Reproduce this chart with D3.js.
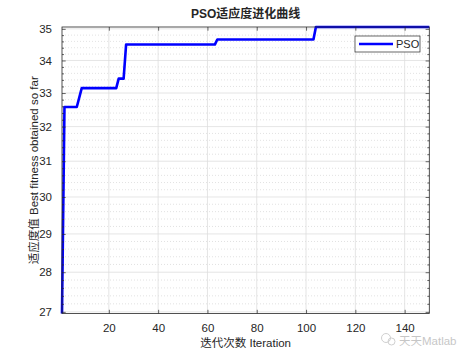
<!DOCTYPE html>
<html lang="zh">
<head>
  <meta charset="UTF-8">
  <title>PSO适应度进化曲线</title>
  <script src="https://d3js.org/d3.v7.min.js"></script>
  <style>
    body { margin: 0; background: #fff; }
    svg { display: block; background: #fff; }
    text { font-family: "Liberation Sans", Arial, "Noto Sans CJK SC", sans-serif; fill: #262626; }
    .cjk { font-family: "Liberation Sans", "Noto Sans CJK SC", sans-serif; }
  </style>
</head>
<body>
  <svg id="chart" width="474" height="355"></svg>

  <script>
    // best-so-far fitness, breakpoints of the step curve
    const iterations = [1, 2, 7, 9, 23, 24, 26, 27, 63, 64, 103, 104, 150];
    const fitness = [26.96, 32.58, 32.58, 33.15, 33.15, 33.44, 33.44, 34.50, 34.50, 34.66, 34.66, 35.06, 35.06];
    const xTicks = [20, 40, 60, 80, 100, 120, 140];
    const yTicks = [27, 28, 29, 30, 31, 32, 33, 34, 35];
    const yMinorTicks = [27.2, 27.4, 27.6, 27.8, 28.2, 28.4, 28.6, 28.8, 29.2, 29.4, 29.6, 29.8,
      30.2, 30.4, 30.6, 30.8, 31.2, 31.4, 31.6, 31.8, 32.2, 32.4, 32.6, 32.8,
      33.2, 33.4, 33.6, 33.8, 34.2, 34.4, 34.6, 34.8];

    const svg = d3.select("#chart");
    const pLeft = 62, pRight = 429.3, pTop = 27, pBottom = 313.5;

    const x = d3.scaleLinear().domain([1, 150]).range([pLeft, pRight]);
    const y = d3.scaleLog().domain([d3.min(fitness), d3.max(fitness)]).range([pBottom, pTop]);

    // grid
    const grid = svg.append("g");
    grid.selectAll(".ymin").data(yMinorTicks).enter().append("line")
      .attr("x1", pLeft).attr("x2", pRight)
      .attr("y1", d => y(d)).attr("y2", d => y(d))
      .attr("stroke", "#cfcfcf").attr("stroke-width", 0.6)
      .attr("stroke-dasharray", "1,2");
    grid.selectAll(".ymaj").data(yTicks).enter().append("line")
      .attr("x1", pLeft).attr("x2", pRight)
      .attr("y1", d => y(d)).attr("y2", d => y(d))
      .attr("stroke", "#dedede").attr("stroke-width", 0.8);
    grid.selectAll(".xmaj").data(xTicks).enter().append("line")
      .attr("y1", pTop).attr("y2", pBottom)
      .attr("x1", d => x(d)).attr("x2", d => x(d))
      .attr("stroke", "#dedede").attr("stroke-width", 0.8);

    // curve
    const pts = iterations.map((it, i) => [it, fitness[i]]);
    svg.append("path")
      .datum(pts)
      .attr("fill", "none")
      .attr("stroke", "#0000ff")
      .attr("stroke-width", 2.6)
      .attr("stroke-linejoin", "round")
      .attr("d", d3.line().x(d => x(d[0])).y(d => y(d[1])));

    // axes (ticks inside, box on)
    const tl = 3.7;
    const axisBottom = svg.append("g").attr("transform", `translate(0,${pBottom})`)
      .call(d3.axisBottom(x).tickValues(xTicks).tickSizeInner(-tl).tickSizeOuter(0).tickPadding(10));
    const axisTop = svg.append("g").attr("transform", `translate(0,${pTop})`)
      .call(d3.axisTop(x).tickValues(xTicks).tickSizeInner(-tl).tickSizeOuter(0).tickFormat(""));
    const axisLeft = svg.append("g").attr("transform", `translate(${pLeft},0)`)
      .call(d3.axisLeft(y).tickValues(yTicks).tickFormat(d3.format("d")).tickSizeInner(-tl).tickSizeOuter(0).tickPadding(10));
    const axisRight = svg.append("g").attr("transform", `translate(${pRight},0)`)
      .call(d3.axisRight(y).tickValues(yTicks).tickSizeInner(-tl).tickSizeOuter(0).tickFormat(""));
    const minorL = svg.append("g").attr("transform", `translate(${pLeft},0)`)
      .call(d3.axisLeft(y).tickValues(yMinorTicks).tickSizeInner(-2).tickSizeOuter(0).tickFormat(""));
    const minorR = svg.append("g").attr("transform", `translate(${pRight},0)`)
      .call(d3.axisRight(y).tickValues(yMinorTicks).tickSizeInner(-2).tickSizeOuter(0).tickFormat(""));

    [axisBottom, axisTop, axisLeft, axisRight, minorL, minorR].forEach(g => {
      g.select(".domain").remove();
      g.selectAll("line").attr("stroke", "#262626").attr("stroke-width", 0.7);
      g.selectAll("text").style("font-size", "11.5px").attr("fill", "#262626");
    });

    svg.append("rect")
      .attr("x", pLeft).attr("y", pTop)
      .attr("width", pRight - pLeft).attr("height", pBottom - pTop)
      .attr("fill", "none").attr("stroke", "#262626").attr("stroke-width", 0.8);

    // title and labels
    svg.append("text")
      .attr("class", "cjk")
      .attr("x", (pLeft + pRight) / 2).attr("y", 18)
      .attr("text-anchor", "middle")
      .style("font-size", "12px").style("font-weight", "bold")
      .text("PSO适应度进化曲线");

    svg.append("text")
      .attr("class", "cjk")
      .attr("x", (pLeft + pRight) / 2).attr("y", 347)
      .attr("text-anchor", "middle")
      .style("font-size", "11.5px")
      .text("迭代次数 Iteration");

    svg.append("text")
      .attr("class", "cjk")
      .attr("transform", `translate(38,${(pTop + pBottom) / 2}) rotate(-90)`)
      .attr("text-anchor", "middle")
      .style("font-size", "11.5px")
      .text("适应度值 Best fitness obtained so far");

    // legend
    const lg = svg.append("g").attr("transform", "translate(355,36)");
    lg.append("rect").attr("width", 65).attr("height", 16)
      .attr("fill", "#fff").attr("stroke", "#262626").attr("stroke-width", 0.7);
    lg.append("line").attr("x1", 4).attr("x2", 38).attr("y1", 8).attr("y2", 8)
      .attr("stroke", "#0000ff").attr("stroke-width", 2.6);
    lg.append("text").attr("x", 41).attr("y", 12)
      .style("font-size", "11px").text("PSO");

    // watermark
    const wm = svg.append("g").attr("opacity", 0.55);
    wm.append("circle").attr("cx", 386).attr("cy", 338).attr("r", 4.5)
      .attr("fill", "none").attr("stroke", "#aaa").attr("stroke-width", 1);
    wm.append("circle").attr("cx", 391.5).attr("cy", 341.5).attr("r", 3.5)
      .attr("fill", "none").attr("stroke", "#aaa").attr("stroke-width", 1);
    wm.append("text").attr("class", "cjk").attr("x", 399).attr("y", 345)
      .style("font-size", "11.5px").style("fill", "#999")
      .text("天天Matlab");
  </script>
</body>
</html>
